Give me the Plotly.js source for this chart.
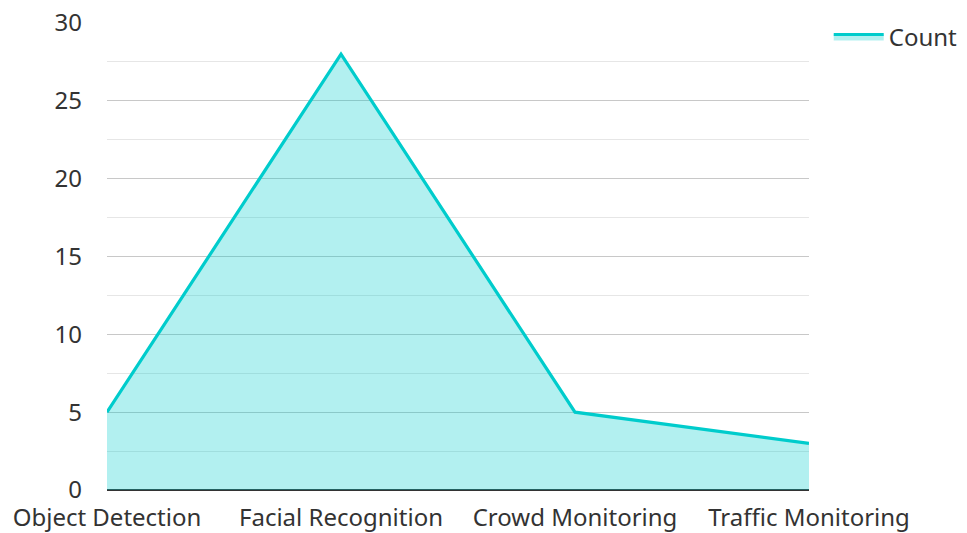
<!DOCTYPE html>
<html>
<head>
<meta charset="utf-8">
<script src="https://cdn.plot.ly/plotly-3.0.1.min.js"></script>
<style>html,body{margin:0;padding:0;background:#fff;}#chart{width:967px;height:533px;}</style>
</head>
<body>
<div id="chart"></div>
<script>
var categories = ["Object Detection", "Facial Recognition", "Crowd Monitoring", "Traffic Monitoring"];
var counts = [5, 28, 5, 3];
var seriesName = "Count";
var yTicks = [0, 5, 10, 15, 20, 25, 30];

var trace = {
  x: categories,
  y: counts,
  name: seriesName,
  type: "scatter",
  mode: "lines",
  fill: "tozeroy",
  fillcolor: "rgba(0,204,204,0.3)",
  line: {color: "#00cccc", width: 3.2},
  showlegend: true
};

var layout = {
  width: 967,
  height: 533,
  margin: {l: 107, r: 158, t: 23, b: 43, pad: 0},
  paper_bgcolor: "#fff",
  plot_bgcolor: "#fff",
  font: {family: "Noto Sans, Open Sans, sans-serif", size: 24, color: "#333"},
  showlegend: true,
  legend: {xref: "container", yref: "container", x: 0.857, y: 0.973, xanchor: "left", yanchor: "top", itemwidth: 50, font: {size: 24, color: "#333"}, bgcolor: "rgba(0,0,0,0)"},
  xaxis: {
    type: "category",
    range: [0, 3],
    showgrid: false,
    zeroline: false,
    showline: false,
    ticks: "",
    ticklabelstandoff: 11,
    tickfont: {size: 24, color: "#333"},
    automargin: false
  },
  yaxis: {
    range: [0, 30],
    tickvals: yTicks,
    showgrid: true,
    gridcolor: "#c8c8c8",
    gridwidth: 1,
    zeroline: true,
    zerolinecolor: "#333",
    zerolinewidth: 2,
    showline: false,
    ticks: "",
    ticklabelstandoff: 24,
    tickfont: {size: 24, color: "#333"},
    minor: {dtick: 2.5, showgrid: true, gridcolor: "#e6e6e6", gridwidth: 1},
    automargin: false
  }
};

Plotly.newPlot("chart", [trace], layout, {displayModeBar: false, staticPlot: true});
</script>
</body>
</html>
